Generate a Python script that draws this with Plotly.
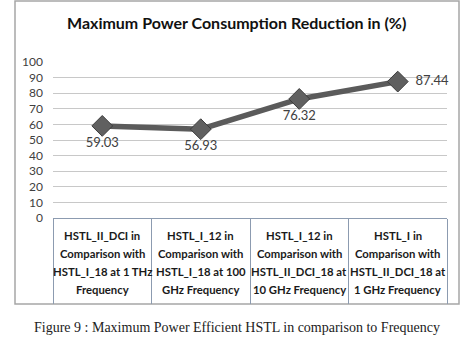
import plotly.graph_objects as go

categories = [
    "HSTL_II_DCI in<br>Comparison with<br>HSTL_I_18 at 1 THz<br>Frequency",
    "HSTL_I_12 in<br>Comparison with<br>HSTL_I_18 at 100<br>GHz Frequency",
    "HSTL_I_12 in<br>Comparison with<br>HSTL_II_DCI_18 at<br>10 GHz Frequency",
    "HSTL_I in<br>Comparison with<br>HSTL_II_DCI_18 at<br>1 GHz Frequency",
]
values = [59.03, 56.93, 76.32, 87.44]
value_labels = ["59.03", "56.93", "76.32", "87.44"]
label_positions = ["bottom center", "bottom center", "bottom center", "middle right"]
y_ticks = [0, 10, 20, 30, 40, 50, 60, 70, 80, 90, 100]

title_text = "Maximum Power Consumption Reduction in (%)"
caption_text = "Figure 9 : Maximum Power Efficient HSTL in comparison to Frequency"

W, H = 474, 350
L, R, T, B = 53, 27, 62, 132
FONT = "Lato, Roboto, sans-serif"

shown_labels = [("  " + t) if p == "middle right" else t
                for t, p in zip(value_labels, label_positions)]

fig = go.Figure()
fig.add_trace(go.Scatter(
    x=categories, y=values, mode="lines+markers+text",
    line=dict(color="#5b5b5b", width=5.5),
    marker=dict(symbol="diamond", size=16, color="#606060",
                line=dict(color="#3c3c3c", width=1)),
    text=shown_labels, textposition=label_positions,
    textfont=dict(family=FONT, size=13, color="#404040"),
    cliponaxis=False, showlegend=False,
))

# category labels, one line each, 18 px apart
for c in categories:
    lines = c.split("<br>")
    for i, ln in enumerate(lines):
        fig.add_annotation(x=c, y=0, xref="x", yref="y", yshift=-17 - 18 * i, yanchor="middle",
                           text="<b>" + ln + "</b>", showarrow=False, align="center",
                           font=dict(family=FONT, size=11.3, color="#1a1a1a"))

def px_x(v):
    return (v - L) / (W - L - R)

def px_y(v):
    return (H - v - B) / (H - T - B)

fig.add_annotation(x=px_x(236), y=px_y(22), xref="paper", yref="paper", text="<b>" + title_text + "</b>",
                   showarrow=False, xanchor="center", yanchor="middle",
                   font=dict(family=FONT, size=16, color="#111111"))

fig.add_annotation(x=px_x(237), y=px_y(327), xref="paper", yref="paper", text=caption_text,
                   showarrow=False, xanchor="center", yanchor="middle",
                   font=dict(family="Liberation Serif, Times New Roman, serif", size=14, color="#222222"))

# outer chart frame
fig.add_shape(type="rect", xref="paper", yref="paper",
              x0=px_x(15), x1=px_x(459), y0=px_y(304), y1=px_y(1),
              line=dict(color="#a6a6a6", width=1.5), fillcolor="rgba(0,0,0,0)", layer="below")

fig.update_layout(
    width=W, height=H,
    margin=dict(l=L, r=R, t=T, b=B),
    paper_bgcolor="white", plot_bgcolor="white",
    xaxis=dict(type="category", range=[-0.5, 3.5], tickson="boundaries",
               ticks="outside", ticklen=85, tickcolor="#8c9bb0", tickwidth=1.2,
               showticklabels=False, showline=True, linecolor="#8c9bb0", linewidth=1.2,
               showgrid=False, zeroline=False, fixedrange=True),
    yaxis=dict(range=[0, 100], tickvals=y_ticks, showgrid=True, gridcolor="#c8c8c8",
               gridwidth=1.2, zeroline=False, showline=False, ticks="",
               ticklabelstandoff=9,
               tickfont=dict(family=FONT, size=12, color="#404040"),
               fixedrange=True),
)

fig.write_html("out.html")
